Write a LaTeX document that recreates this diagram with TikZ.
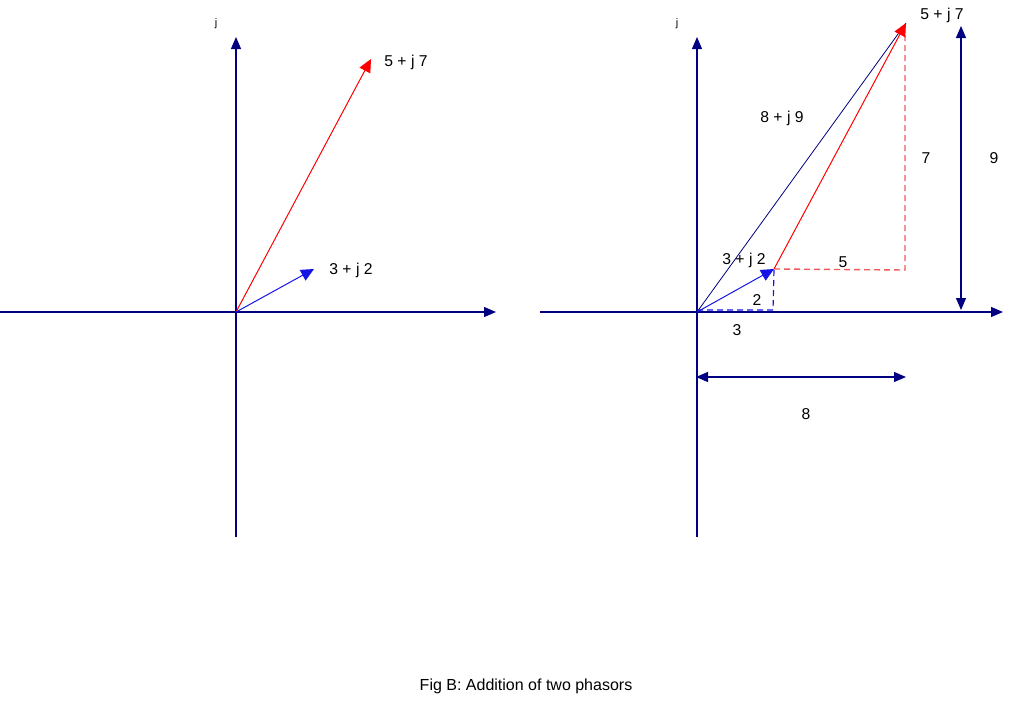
\documentclass[tikz,border=0pt]{standalone}
\usepackage{fontspec}
\setmainfont{Liberation Sans}
\usetikzlibrary{arrows.meta}
\definecolor{navy}{RGB}{0,0,128}
\definecolor{pblue}{RGB}{20,20,230}
\definecolor{pred}{RGB}{255,0,0}
\definecolor{dred}{RGB}{240,90,90}
\tikzset{
  axis/.style={navy, line width=1.2pt, -{Triangle[length=12pt,width=10pt]}},
  dimarrow/.style={navy, line width=1.2pt, {Triangle[length=12pt,width=10pt]}-{Triangle[length=12pt,width=10pt]}},
  bvec/.style={pblue, line width=1pt, -{Triangle[length=13pt,width=12pt]}},
  rvec/.style={pred, line width=1pt, -{Triangle[length=13pt,width=12pt]}},
  resvec/.style={navy, line width=0.8pt},
  rdash/.style={dred, line width=1.4pt, dash pattern=on 6pt off 4pt},
  bdash/.style={pblue, line width=1.2pt, dash pattern=on 6pt off 4pt},
  lbl/.style={font=\fontsize{15.7}{18}\selectfont, inner sep=0pt},
  jlbl/.style={font=\fontsize{11}{13}\selectfont, inner sep=0pt},
  caplbl/.style={font=\fontsize{16}{18}\selectfont, inner sep=0pt},
}
\begin{document}
\begin{tikzpicture}[x=1pt,y=-1pt]
\useasboundingbox (0,0) rectangle (1011,704);
% left diagram
\coordinate (OL) at (236,312);
\coordinate (lxs) at (0,312);
\coordinate (lxe) at (496,312);
\coordinate (lys) at (236,537);
\coordinate (lye) at (236,37);
\coordinate (LA) at (314,269);
\coordinate (LB) at (371,59);
\draw[axis] (lxs) -- (lxe);
\draw[axis] (lys) -- (lye);
\draw[rvec] (OL) -- (LB);
\draw[bvec] (OL) -- (LA);
\node[jlbl] (jl) at (216,24) {j};
\node[lbl] (l57) at (406,62) {5 + j 7};
\node[lbl] (l32) at (351,270) {3 + j 2};
% right diagram
\coordinate (OR) at (697,312);
\coordinate (rxs) at (540,312);
\coordinate (rxe) at (1003,312);
\coordinate (rys) at (697,537);
\coordinate (rye) at (697,37);
\coordinate (RA) at (774,269);
\coordinate (RB) at (906,23);
\coordinate (RC) at (905,270);
\coordinate (RD) at (773,310);
\coordinate (RE) at (697,310);
\draw[axis] (rxs) -- (rxe);
\draw[axis] (rys) -- (rye);
\draw[bdash] (RE) -- (RD) -- (RA);
\draw[rdash] (RA) -- (RC) -- (905,34);
\draw[resvec] (OR) -- (RB);
\draw[rvec] (RA) -- (RB);
\draw[bvec] (OR) -- (RA);
% dimension arrows
\coordinate (v9a) at (961,26);
\coordinate (v9b) at (961,310);
\draw[dimarrow] (v9a) -- (v9b);
\coordinate (h8a) at (696,377);
\coordinate (h8b) at (906,377);
\draw[dimarrow] (h8a) -- (h8b);
% labels
\node[jlbl] (jr) at (677,24) {j};
\node[lbl] (r57) at (942,15) {5 + j 7};
\node[lbl] (r89) at (782,118) {8 + j 9};
\node[lbl] (r32) at (744,260) {3 + j 2};
\node[lbl] (n2) at (757,300) {2};
\node[lbl] (n3) at (737,330) {3};
\node[lbl] (n5) at (843,262) {5};
\node[lbl] (n7) at (926,158) {7};
\node[lbl] (n9) at (994,158) {9};
\node[lbl] (n8) at (806,414) {8};
\node[caplbl] (cap) at (526,686) {Fig B: Addition of two phasors};
\end{tikzpicture}
\end{document}
